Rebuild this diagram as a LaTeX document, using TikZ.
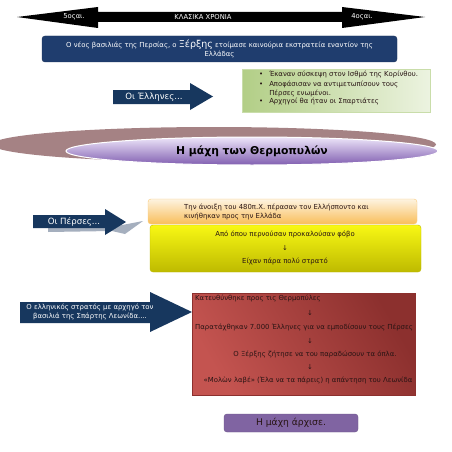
\documentclass[tikz,border=0pt]{standalone}
\usepackage{fontspec}
\setmainfont{DejaVu Sans}
\usetikzlibrary{shapes.geometric}
\definecolor{navy}{RGB}{23,55,94}
\definecolor{boxblue}{RGB}{31,61,110}
\definecolor{rosy}{RGB}{165,130,132}
\definecolor{lavtop}{RGB}{238,230,250}
\definecolor{lavbot}{RGB}{128,94,176}
\definecolor{greenA}{RGB}{178,206,134}
\definecolor{greenB}{RGB}{236,243,224}
\definecolor{orA}{RGB}{253,243,224}
\definecolor{orB}{RGB}{249,190,90}
\definecolor{yelA}{RGB}{248,248,20}
\definecolor{yelB}{RGB}{190,186,0}
\definecolor{redA}{RGB}{196,84,80}
\definecolor{redB}{RGB}{140,48,46}
\definecolor{purp}{RGB}{128,100,162}
\definecolor{shad}{RGB}{165,175,190}
\definecolor{darktxt}{RGB}{40,20,20}
\newcommand{\fsz}[1]{\fontsize{#1}{#1}\selectfont}
\begin{document}
\begin{tikzpicture}[x=1pt,y=-1pt,
  txt/.style={inner sep=0pt, align=center, font=\fontsize{6.9}{9}\selectfont, text=darktxt},
  wtxt/.style={inner sep=0pt, align=center, text=white},
  rbox/.style={rounded corners=3pt, minimum width=#1, inner sep=0pt}]
\useasboundingbox (0,0) rectangle (452,452);
\fill[white] (0,0) rectangle (452,452);

% timeline double arrow
\fill[black] (17,17) -- (98,7) -- (98,12) -- (342,12) -- (342,7) -- (425,17) -- (342,28) -- (342,22) -- (98,22) -- (98,28) -- cycle;
\node[wtxt, font=\fsz{6.8}] (c5) at (74,17) {5οςαι.};
\node[wtxt, font=\fsz{6.8}] (cl) at (203,17) {ΚΛΑΣΙΚΑ ΧΡΟΝΙΑ};
\node[wtxt, font=\fsz{6.8}] (c4) at (362,17) {4οςαι.};

% Xerxes box
\node[rbox=355pt, minimum height=26pt, fill=boxblue, draw=boxblue!80!black] (xerx) at (219.5,49) {};
\node[wtxt, font=\fontsize{6.9}{9}\selectfont] (xerxt) at (219.5,49) {Ο νέος βασιλιάς της Περσίας, ο {\fontsize{9.5}{9}\selectfont Ξέρξης} ετοίμασε καινούρια εκστρατεία εναντίον της\\Ελλάδας};

% Greeks arrow
\fill[navy] (113,90) -- (190,90) -- (190,83) -- (213,96.5) -- (190,110) -- (190,104) -- (113,104) -- cycle;
\node[wtxt, font=\fsz{8.6}] (ell) at (154,97) {Οι Έλληνες...};

% green box
\node[minimum width=188pt, minimum height=43pt, inner sep=0pt, left color=greenA, right color=greenB, draw=greenA!70!white] (grn) at (336,90.5) {};
\node[txt, anchor=north west, align=left] (grnt) at (259,70.5) {%
\begin{tabular}{@{}l@{\hspace{6pt}}l@{}}
• & Έκαναν σύσκεψη στον Ισθμό της Κορίνθου.\\
• & Αποφάσισαν να αντιμετωπίσουν τους\\
  & Πέρσες ενωμένοι.\\
• & Αρχηγοί θα ήταν οι Σπαρτιάτες
\end{tabular}};

% ellipses
\fill[rosy] (214,144.5) ellipse [x radius=222pt, y radius=17.5pt];
\node[ellipse, minimum width=372pt, minimum height=28pt, inner sep=0pt, top color=lavtop, bottom color=lavbot, draw=white, line width=1pt, font=\bfseries\fsz{10.8}] (title) at (252,151) {Η μάχη των Θερμοπυλών};

% Persians arrow
\fill[shad] (48,228) -- (112,227) -- (143,221) -- (125,234) -- (112,231) -- (48,232) -- cycle;
\fill[navy] (33,215) -- (105,215) -- (105,209) -- (126,222) -- (105,235) -- (105,228) -- (33,228) -- cycle;
\node[wtxt, font=\fsz{8.6}] (pers) at (74,221.5) {Οι Πέρσες...};

% orange box
\node[rbox=269pt, minimum height=25pt, top color=orA, bottom color=orB, draw=orB!80!white] (orng) at (282.5,211.5) {};
\node[txt, anchor=west, align=left] (orngt) at (184,211.5) {Την άνοιξη του 480π.Χ. πέρασαν τον Ελλήσποντο και\\κινήθηκαν προς την Ελλάδα};

% yellow box
\node[rbox=271pt, minimum height=47pt, top color=yelA, middle color=yelA!90!yelB, bottom color=yelB, draw=yelB] (yel) at (285.5,248.5) {};
\node[txt] (y1) at (285,234.5) {Από όπου περνούσαν προκαλούσαν φόβο};
\node[txt] (y2) at (285,247.5) {↓};
\node[txt] (y3) at (285,261) {Είχαν πάρα πολύ στρατό};

% Leonidas arrow
\fill[navy] (20,302) -- (150,302) -- (150,292) -- (192,312) -- (150,332) -- (150,323) -- (20,323) -- cycle;
\node[wtxt, font=\fontsize{6.9}{9}\selectfont] (leon) at (90,312) {Ο ελληνικός στρατός με αρχηγό τον\\βασιλιά της Σπάρτης Λεωνίδα....};

% red box
\node[minimum width=223pt, minimum height=102pt, inner sep=0pt, shading=axis, left color=redA, right color=redB, shading angle=120, draw=redB] (red) at (303.5,344) {};
\node[txt, anchor=west] (r1) at (195,298.5) {Κατευθύνθηκε προς τις Θερμοπύλες};
\node[txt] (ra1) at (310,313) {↓};
\node[txt] (r2) at (304,327) {Παρατάχθηκαν 7.000 Έλληνες για να εμποδίσουν τους Πέρσες};
\node[txt] (ra2) at (310,341) {↓};
\node[txt] (r3) at (315,354) {Ο Ξέρξης ζήτησε να του παραδώσουν τα όπλα.};
\node[txt] (ra3) at (310,367) {↓};
\node[txt] (r4) at (308,380.5) {«Μολὼν λαβέ» (Έλα να τα πάρεις) η απάντηση του Λεωνίδα};

% final box
\node[rbox=134pt, minimum height=18pt, fill=purp, draw=purp!85!black, font=\fsz{9.2}, text=darktxt] (start) at (291,423) {Η μάχη άρχισε.};
\end{tikzpicture}
\end{document}
